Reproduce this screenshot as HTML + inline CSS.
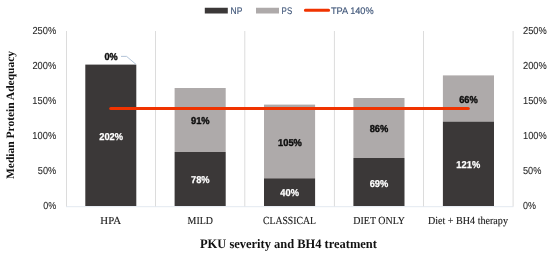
<!DOCTYPE html>
<html lang="en">
<head>
<meta charset="utf-8">
<title>Median Protein Adequacy by PKU severity and BH4 treatment</title>
<style>
  html, body { margin: 0; padding: 0; background: #ffffff; }
  body { width: 550px; height: 255px; overflow: hidden; }
  svg { display: block; }
  .sans { font-family: "Liberation Sans", "DejaVu Sans", sans-serif; }
  .serif { font-family: "Liberation Serif", "DejaVu Serif", serif; }
</style>
</head>
<body>
<svg width="550" height="255" viewBox="0 0 550 255" text-rendering="geometricPrecision">
  <rect x="0" y="0" width="550" height="255" fill="#ffffff"/>

  <!-- vertical gridlines -->
  <g stroke="#dcdcdc" stroke-width="1">
    <line x1="66.5" y1="31" x2="66.5" y2="206.5"/>
    <line x1="155.5" y1="31" x2="155.5" y2="206.5"/>
    <line x1="244.8" y1="31" x2="244.8" y2="206.5"/>
    <line x1="334.4" y1="31" x2="334.4" y2="206.5"/>
    <line x1="423.5" y1="31" x2="423.5" y2="206.5"/>
    <line x1="513.1" y1="31" x2="513.1" y2="206.5"/>
  </g>
  <!-- category axis line -->
  <line x1="66" y1="206.7" x2="513.3" y2="206.7" stroke="#d9e2ec" stroke-width="0.75"/>

  <!-- bars -->
  <g>
    <rect x="85.3" y="64.6" width="51" height="141.4" fill="#3b3838"/>

    <rect x="174.6" y="88" width="51.1" height="64" fill="#aeaaaa"/>
    <rect x="174.6" y="152" width="51.1" height="54" fill="#3b3838"/>

    <rect x="264" y="104.6" width="51.1" height="74" fill="#aeaaaa"/>
    <rect x="264" y="178.4" width="51.1" height="27.6" fill="#3b3838"/>

    <rect x="353.4" y="98" width="51.1" height="60" fill="#aeaaaa"/>
    <rect x="353.4" y="158" width="51.1" height="48" fill="#3b3838"/>

    <rect x="442.9" y="75.4" width="51.1" height="46.6" fill="#aeaaaa"/>
    <rect x="442.9" y="121.8" width="51.1" height="84.2" fill="#3b3838"/>
  </g>

  <!-- TPA line -->
  <line x1="110.7" y1="108.4" x2="468.3" y2="108.4" stroke="#f03300" stroke-width="3" stroke-linecap="round"/>

  <!-- leader line for 0% -->
  <polyline points="121,56.4 126.6,56.4 136,64.4" fill="none" stroke="#9fb5ce" stroke-width="0.8"/>

  <g transform="rotate(0.01)">
  <!-- left axis labels -->
  <g class="sans" font-size="10.2" fill="#262626" stroke="#262626" stroke-width="0.08" text-anchor="end">
    <text x="56.2" y="34.2" textLength="23.8" lengthAdjust="spacingAndGlyphs">250%</text>
    <text x="56.2" y="69.2" textLength="23.8" lengthAdjust="spacingAndGlyphs">200%</text>
    <text x="56.2" y="104.2" textLength="23.8" lengthAdjust="spacingAndGlyphs">150%</text>
    <text x="56.2" y="139.2" textLength="23.8" lengthAdjust="spacingAndGlyphs">100%</text>
    <text x="56.2" y="174.2" textLength="18.4" lengthAdjust="spacingAndGlyphs">50%</text>
    <text x="56.2" y="209.2" textLength="13.0" lengthAdjust="spacingAndGlyphs">0%</text>
  </g>
  <!-- right axis labels -->
  <g class="sans" font-size="10.2" fill="#262626" stroke="#262626" stroke-width="0.08" text-anchor="start">
    <text x="523" y="34.2" textLength="23.8" lengthAdjust="spacingAndGlyphs">250%</text>
    <text x="523" y="69.2" textLength="23.8" lengthAdjust="spacingAndGlyphs">200%</text>
    <text x="523" y="104.2" textLength="23.8" lengthAdjust="spacingAndGlyphs">150%</text>
    <text x="523" y="139.2" textLength="23.8" lengthAdjust="spacingAndGlyphs">100%</text>
    <text x="523" y="174.2" textLength="18.4" lengthAdjust="spacingAndGlyphs">50%</text>
    <text x="523" y="209.2" textLength="13.0" lengthAdjust="spacingAndGlyphs">0%</text>
  </g>

  <!-- data labels -->
  <g class="sans" font-size="10" font-weight="bold" text-anchor="middle">
    <text x="111" y="60.2" fill="#0d0d0d" stroke="#0d0d0d" stroke-width="0.4" textLength="13.2" lengthAdjust="spacingAndGlyphs">0%</text>
    <text x="111.2" y="139.6" fill="#ffffff" stroke="#ffffff" stroke-width="0.25" textLength="23.8" lengthAdjust="spacingAndGlyphs">202%</text>
    <text x="200.3" y="123.8" fill="#0d0d0d" stroke="#0d0d0d" stroke-width="0.4" textLength="18.6" lengthAdjust="spacingAndGlyphs">91%</text>
    <text x="200.3" y="183.2" fill="#ffffff" stroke="#ffffff" stroke-width="0.25" textLength="18.6" lengthAdjust="spacingAndGlyphs">78%</text>
    <text x="290" y="146" fill="#0d0d0d" stroke="#0d0d0d" stroke-width="0.4" textLength="23.8" lengthAdjust="spacingAndGlyphs">105%</text>
    <text x="289.7" y="196.2" fill="#ffffff" stroke="#ffffff" stroke-width="0.25" textLength="18.6" lengthAdjust="spacingAndGlyphs">40%</text>
    <text x="379" y="132" fill="#0d0d0d" stroke="#0d0d0d" stroke-width="0.4" textLength="18.6" lengthAdjust="spacingAndGlyphs">86%</text>
    <text x="379" y="186.6" fill="#ffffff" stroke="#ffffff" stroke-width="0.25" textLength="18.6" lengthAdjust="spacingAndGlyphs">69%</text>
    <text x="468.5" y="102.6" fill="#0d0d0d" stroke="#0d0d0d" stroke-width="0.4" textLength="18.6" lengthAdjust="spacingAndGlyphs">66%</text>
    <text x="468.3" y="168" fill="#ffffff" stroke="#ffffff" stroke-width="0.25" textLength="23.8" lengthAdjust="spacingAndGlyphs">121%</text>
  </g>

  <!-- legend -->
  <rect x="204.8" y="7.6" width="23" height="5.8" fill="#3b3838"/>
  <rect x="256" y="7.6" width="23" height="5.8" fill="#aeaaaa"/>
  <line x1="305.4" y1="10.3" x2="328.6" y2="10.3" stroke="#f03300" stroke-width="3" stroke-linecap="round"/>
  <g class="sans" font-size="9.6" fill="#41577a" stroke="#41577a" stroke-width="0.15">
    <text x="230.6" y="13.5" textLength="11.8" lengthAdjust="spacingAndGlyphs">NP</text>
    <text x="281.6" y="13.5" textLength="10.6" lengthAdjust="spacingAndGlyphs">PS</text>
    <text x="331" y="13.5" textLength="42.6" lengthAdjust="spacingAndGlyphs">TPA 140%</text>
  </g>

  <!-- category labels -->
  <g class="serif" font-size="10.8" fill="#1a1a1a" stroke="#1a1a1a" stroke-width="0.12" text-anchor="middle">
    <text x="110.7" y="224" textLength="20.6" lengthAdjust="spacingAndGlyphs">HPA</text>
    <text x="200.3" y="224" textLength="25.4" lengthAdjust="spacingAndGlyphs">MILD</text>
    <text x="289.5" y="224" textLength="53" lengthAdjust="spacingAndGlyphs">CLASSICAL</text>
    <text x="379.2" y="224" textLength="51.6" lengthAdjust="spacingAndGlyphs">DIET ONLY</text>
    <text x="468" y="224" textLength="80" lengthAdjust="spacingAndGlyphs">Diet + BH4 therapy</text>
  </g>

  <!-- axis titles -->
  <text class="serif" font-size="13" font-weight="bold" fill="#111111" text-anchor="middle" x="288.5" y="247.5" textLength="177" lengthAdjust="spacingAndGlyphs">PKU severity and BH4 treatment</text>
  <text class="serif" font-size="11.3" font-weight="bold" fill="#111111" text-anchor="middle" transform="translate(14.4,115) rotate(-90)" textLength="128" lengthAdjust="spacingAndGlyphs">Median Protein Adequacy</text>
  </g>
</svg>
</body>
</html>
